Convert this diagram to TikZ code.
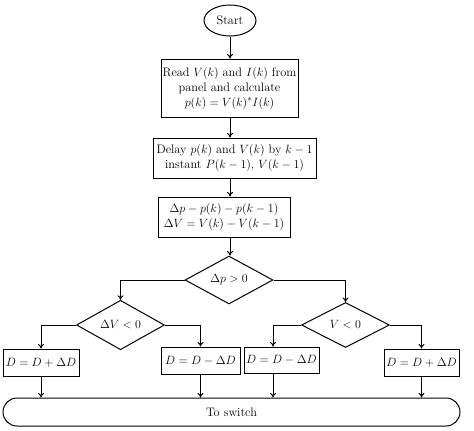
\documentclass[tikz,border=0pt]{standalone}
\usetikzlibrary{shapes.geometric,arrows.meta,calc}
\begin{document}
\begin{tikzpicture}[x=1pt,y=-1pt,
  every node/.style={font=\fontsize{12.3}{15}\selectfont, inner sep=0pt},
  flow/.style={draw, line width=1pt, align=center},
  procbox/.style={flow, rectangle},
  decision/.style={flow, diamond, minimum width=88pt, minimum height=45pt},
  conn/.style={line width=1pt, -{To[length=4.5pt,width=6pt]}}]
\useasboundingbox (0,0) rectangle (474,431);
\node[flow, ellipse, minimum width=52pt, minimum height=31pt] (start) at (230,20.5) {Start};
\node[procbox, minimum width=137pt, minimum height=58pt] (b1) at (229.5,88) {Read $V(k)$ and $I(k)$ from\\ panel and calculate\\ $p(k) = V(k)^{*} I(k)$};
\node[procbox, minimum width=163pt, minimum height=40pt] (b2) at (234.5,158) {Delay $p(k)$ and $V(k)$ by $k-1$\\ instant $P(k-1)$, $V(k-1)$};
\node[procbox, minimum width=132pt, minimum height=40pt] (b3) at (224,217) {$\Delta p - p(k) - p(k-1)$\\ $\Delta V = V(k) - V(k-1)$};
\node[decision] (d0) at (229,280) {$\Delta p > 0$};
\node[decision] (d1) at (120.5,325) {$\Delta V < 0$};
\node[decision] (d2) at (345.5,325) {$V < 0$};
\node[procbox, minimum width=76pt, minimum height=27pt] (e1) at (41,362.5) {$D = D + \Delta D$};
\node[procbox, minimum width=79pt, minimum height=27pt] (e2) at (200.5,360.5) {$D = D - \Delta D$};
\node[procbox, minimum width=75pt, minimum height=26pt] (e3) at (281.5,360) {$D = D - \Delta D$};
\node[procbox, minimum width=75pt, minimum height=27pt] (e4) at (421.5,362.5) {$D = D + \Delta D$};
\node[flow, rectangle, rounded corners=14pt, minimum width=457pt, minimum height=28pt] (sw) at (231.5,412) {To switch};
\coordinate (e3in) at ($(e3.north)+(-8.5,0)$);
\coordinate (e3out) at ($(e3.south)+(-8.5,0)$);
\draw[conn] (start.south) -- (start.south |- b1.north);
\draw[conn] (b1.south -| start.south) -- (b2.north -| start.south);
\draw[conn] (b2.south -| start.south) -- (b3.north -| start.south);
\draw[conn] (b3.south -| start.south) -- (d0.north -| start.south);
\draw[conn] (d0.west) -| (d1.north);
\draw[conn] (d0.east) -| (d2.north);
\draw[conn] (d1.west) -| (e1.north);
\draw[conn] (d1.east) -| (e2.north);
\draw[conn] (d2.west) -| (e3in);
\draw[conn] (d2.east) -| (e4.north);
\draw[conn] (e1.south) -- (e1.south |- sw.north);
\draw[conn] (e2.south) -- (e2.south |- sw.north);
\draw[conn] (e3out) -- (e3out |- sw.north);
\draw[conn] (e4.south) -- (e4.south |- sw.north);
\end{tikzpicture}
\end{document}
